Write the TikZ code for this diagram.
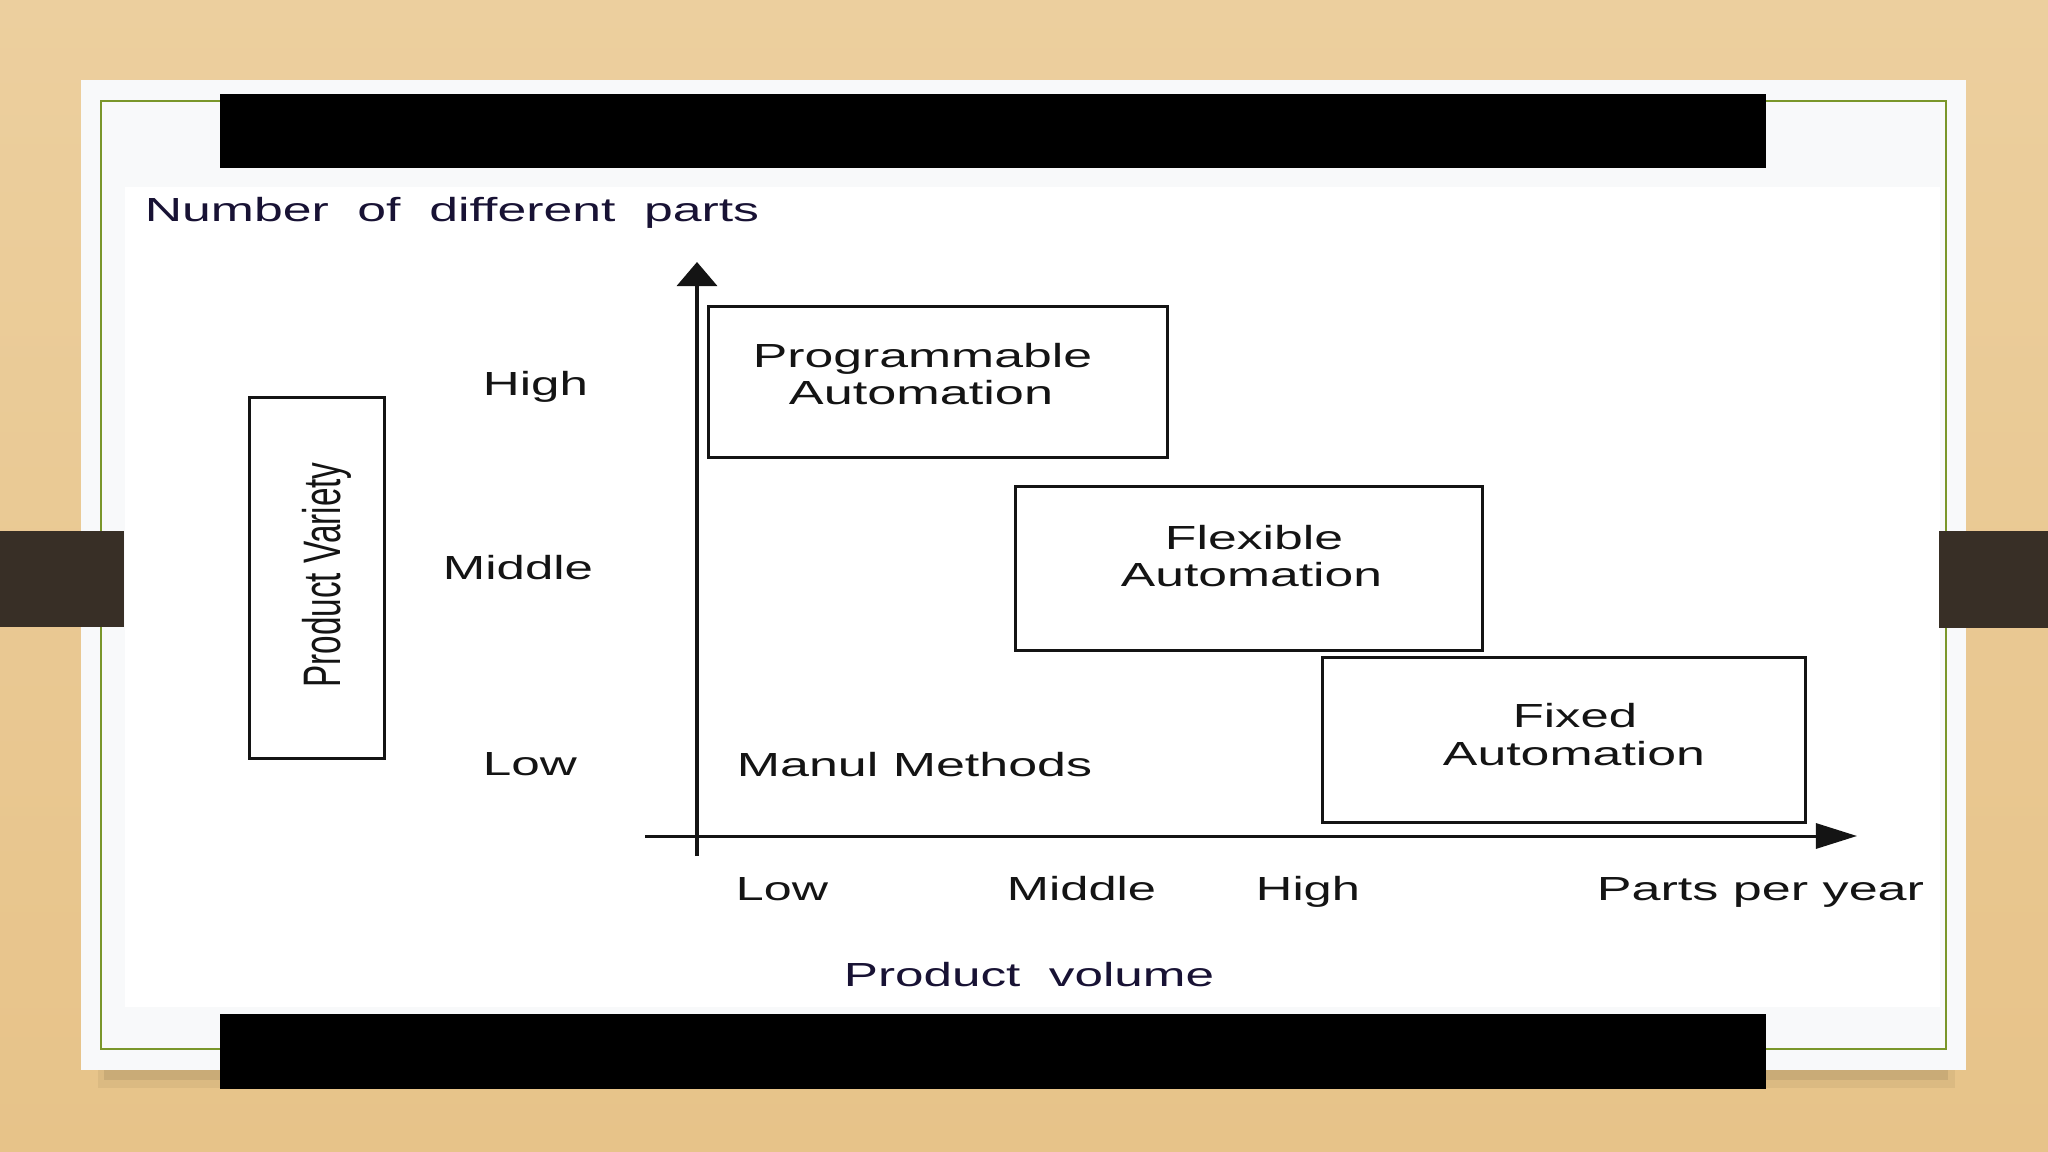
\documentclass[tikz,border=0pt]{standalone}
\usepackage{fontspec}
\setmainfont{Liberation Sans}
\usepackage{graphicx}
\usetikzlibrary{arrows.meta}
\definecolor{wood}{RGB}{231,195,137}
\definecolor{woodlight}{RGB}{236,207,158}
\definecolor{barbrown}{RGB}{56,47,38}
\definecolor{paper}{RGB}{248,249,250}
\definecolor{olivegreen}{RGB}{122,150,42}
\definecolor{navyink}{RGB}{24,18,52}
\definecolor{ink}{RGB}{20,20,20}
\newcommand{\wt}[2]{\resizebox{#1}{\height}{#2}}
\begin{document}
\begin{tikzpicture}[x=0.01cm,y=-0.01cm,
  lbl/.style={inner sep=0pt, anchor=base, text=ink, font=\fontsize{9.5}{11}\selectfont},
  ttl/.style={lbl, text=navyink},
  chartbox/.style={draw=ink, line width=0.03cm, inner sep=0pt},
  axisline/.style={draw=ink, line width=0.03cm}
]
\useasboundingbox (0,0) rectangle (2048,1152);
% background
\shade[top color=woodlight, bottom color=wood] (0,0) rectangle (2048,1152);
% paper shadow
\fill[black,opacity=0.05] (98,1066) rectangle (1955,1088);
\fill[black,opacity=0.08] (104,1066) rectangle (1948,1080);
% paper
\fill[paper] (81,80) rectangle (1966,1070);
\fill[white] (125,187) rectangle (1940,1007);
\draw[olivegreen, line width=0.022cm] (101,101) rectangle (1946,1049);
% black bars
\fill[black] (220,94) rectangle (1766,168);
\fill[black] (220,1014) rectangle (1766,1089);
% side bars
\fill[barbrown] (0,531) rectangle (124,627);
\fill[barbrown] (1939,531) rectangle (2048,628);

% title
\node[ttl] (title) at (452,222) {\wt{6.14cm}{Number~~of~~different~~parts}};

% product variety box
\node[chartbox, minimum width=1.34cm, minimum height=3.60cm] (pvbox) at (317,578) {};
\node[lbl, rotate=90, font=\fontsize{15}{17}\selectfont] (pvtext) at (340,575) {\wt{2.25cm}{Product Variety}};

% y labels
\node[lbl] (yhigh) at (535.5,396) {\wt{1.05cm}{High}};
\node[lbl] (ymid) at (518,580) {\wt{1.50cm}{Middle}};
\node[lbl] (ylow) at (530,775) {\wt{0.94cm}{Low}};

% axes
\coordinate (yb) at (697,856);
\coordinate (yt) at (697,262);
\draw[axisline, line width=0.035cm, -{Triangle[length=0.24cm,width=0.40cm]}] (yb) -- (yt);
\coordinate (xl) at (645,836);
\coordinate (xr) at (1857,836);
\draw[axisline, -{Triangle[length=0.41cm,width=0.25cm]}] (xl) -- (xr);

% boxes
\node[chartbox, minimum width=4.58cm, minimum height=1.50cm] (prog) at (938,382) {};
\node[lbl] (prog1) at (922.5,368) {\wt{3.39cm}{Programmable}};
\node[lbl] (prog2) at (921,405) {\wt{2.64cm}{Automation}};

\node[chartbox, minimum width=4.66cm, minimum height=1.63cm] (flex) at (1249,568.5) {};
\node[lbl] (flex1) at (1254,550) {\wt{1.78cm}{Flexible}};
\node[lbl] (flex2) at (1251.5,587) {\wt{2.61cm}{Automation}};

\node[chartbox, minimum width=4.82cm, minimum height=1.64cm] (fixed) at (1564,740) {};
\node[lbl] (fixed1) at (1575,727) {\wt{1.24cm}{Fixed}};
\node[lbl] (fixed2) at (1574,765) {\wt{2.62cm}{Automation}};

\node[lbl] (manual) at (914.5,776) {\wt{3.55cm}{Manul Methods}};

% x labels
\node[lbl] (xlow) at (782,900) {\wt{0.92cm}{Low}};
\node[lbl] (xmid) at (1081.5,900) {\wt{1.49cm}{Middle}};
\node[lbl] (xhigh) at (1308,900) {\wt{1.04cm}{High}};
\node[lbl] (xunit) at (1760.5,900) {\wt{3.27cm}{Parts per year}};
\node[ttl] (xtitle) at (1029,986) {\wt{3.70cm}{Product~~volume}};
\end{tikzpicture}
\end{document}
